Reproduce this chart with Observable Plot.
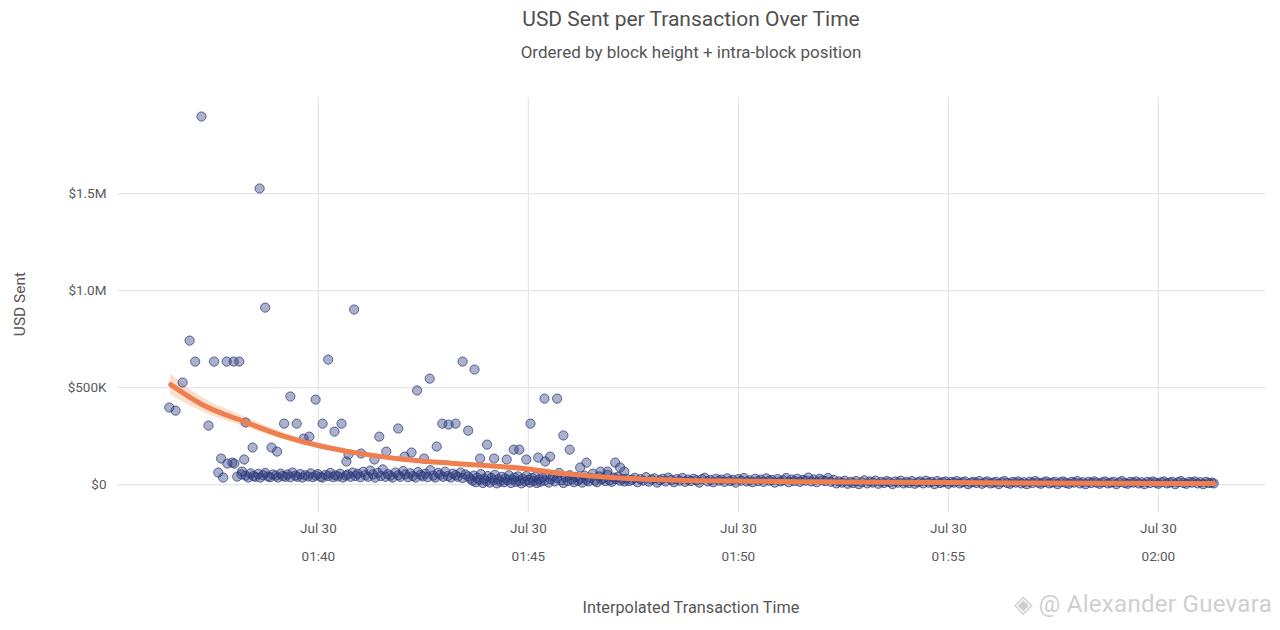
<!DOCTYPE html>
<html><head><meta charset="utf-8">
<script src="https://cdn.jsdelivr.net/npm/d3@7"></script>
<script src="https://cdn.jsdelivr.net/npm/@observablehq/plot@0.6"></script>
<style>
body{margin:0;background:#fff;font-family:Roboto,"Noto Sans",sans-serif;}
#wrap{position:relative;width:1280px;height:630px;overflow:hidden;background:#fff}
#head{position:relative;height:80px;}
#title{position:absolute;left:117px;width:1148px;top:6px;text-align:center;font-size:21px;color:#4f4f4f;line-height:26px}
#subtitle{position:absolute;left:117px;width:1148px;top:41px;text-align:center;font-size:17px;color:#555;line-height:22px}
#xlab{position:absolute;left:117px;width:1148px;top:598px;text-align:center;font-size:16.3px;color:#555;line-height:20px}
#ylab{position:absolute;left:20px;top:304px;transform:translate(-50%,-50%) rotate(-90deg);font-size:15.5px;color:#555;white-space:nowrap;line-height:20px}
#wm{position:absolute;right:8px;top:590px;font-size:24px;color:#cfcfcf;line-height:28px;letter-spacing:0.3px}
svg{display:block}
</style></head>
<body><div id="wrap">
<div id="head"><div id="title"></div><div id="subtitle"></div></div>
<div id="chart"></div>
<div id="xlab"></div><div id="ylab"></div>
<div id="wm"></div>
</div>
<script>
const titleText = "USD Sent per Transaction Over Time";
const subtitleText = "Ordered by block height + intra-block position";
const xLabel = "Interpolated Transaction Time";
const yLabel = "USD Sent";
const watermark = "◈ @ Alexander Guevara";

// time reference: seconds after 2024-07-30 01:36:00 UTC; values in thousands of USD
const baseTime = Date.UTC(2024, 6, 30, 1, 36, 0);
const xDomainSec = [-47, 1593];
const yDomain = [-144000, 1995000];
const yTickValues = [0, 500000, 1000000, 1500000];
const yTickLabels = ["$0", "$500K", "$1.0M", "$1.5M"];
const xTickTimes = ["01:40", "01:45", "01:50", "01:55", "02:00"];
const xTickDate = "Jul 30";

const outlierPoints = [
[27,397],[36,381],[46,526],[56,742],[64,634],[73,1897],[83,304],[91,634],[109,634],[119,634],[127,634],
[136,320],[146,191],[156,1526],[164,912],[173,191],[181,170],[191,314],[200,454],[209,314],[219,237],[227,247],[236,438],[246,314],[254,644],[263,273],[273,314],[280,119],[283,155],[291,902],
[97,62],[101,134],[104,36],[110,108],[117,113],[120,108],[124,41],[131,67],[134,129],
[301,160],[320,129],[327,247],[337,170],[354,289],[363,144],[373,165],[381,485],[391,134],[399,546],[409,196],[417,314],[426,309],[436,314],[446,634],[454,278],[463,593],[471,134],[481,206],[491,134],[509,129],[519,180],[527,180],[537,129],[543,314],[554,139],[563,443],[564,119],[571,144],[581,443],[590,253],[599,180],[614,88],[623,113],[643,67],[653,67],[664,113],[671,88],[677,67]
];

const bandEarly = [
[130,52],[136,46],[140,36],[143,58],[147,44],[150,40],[154,55],[157,36],[161,48],[164,60],[168,42],[171,38],[175,52],[179,46],[182,36],[186,56],[189,44],[193,40],[196,52],[200,38],[203,62],[207,46],[210,40],[214,54],[217,36],[221,48],[225,42],[229,58],[232,38],[236,46],[239,54],[243,40],[246,36],[250,50],[254,44],[257,60],[261,38],[264,48],[268,42],[271,56],[275,36],[279,46],[282,52],[286,40],[289,62]
];

const bandMiddle = [
[293,44],[296,56],[300,38],[304,66],[307,48],[311,40],[314,72],[318,52],[321,36],[325,60],[329,44],[332,78],[336,40],[339,54],[343,46],[346,36],[350,62],[354,48],[357,40],[361,70],[364,52],[368,38],[371,58],[375,44],[379,36],[382,64],[386,50],[389,42],[393,56],[396,38],[400,74],[404,46],[407,36],[411,60],[414,50],[418,40],[421,66],[425,44],[429,36],[432,56],[436,48],[439,40],[443,62],[446,34],[450,52],[454,42],
[457,30],[460,20],[462,46],[465,12],[467,36],[470,24],[472,54],[475,8],[477,30],[480,18],[482,44],[485,10],[487,34],[490,22],[492,50],[495,6],[497,28],[500,16],[502,40],[505,12],[507,32],[510,22],[512,48],[515,8],[517,26],[520,36],[522,14],[525,42],[527,20],[530,6],[532,30],[535,16],[537,44],[540,24],[542,10],[545,34],[547,18],[550,40],[552,8],[555,26],[557,14]
];

const bandLate = [
[560,36],[563,20],[566,52],[569,10],[572,28],[575,44],[578,16],[581,32],[584,60],[587,22],[590,8],[593,38],[596,18],[599,48],[602,26],[605,12],[608,40],[611,20],[614,30],[617,10],[620,46],[623,24],[626,16],[629,34],[632,56],[635,20],[638,12],[641,42],[644,26],[647,32],[650,18],[653,50],[656,22],[659,14],[662,36],[665,28],[668,40],[671,20],[674,30],[677,16]
];

const bandTail = [
[680,30],[684,18],[688,25],[692,35],[696,12],[700,28],[704,20],[708,38],[712,15],[716,26],[720,32],[724,10],[728,22],[732,30],[736,16],[740,36],[744,24],[748,12],[752,28],[756,20],[760,34],[764,14],[768,26],[772,18],[776,30],[780,22],[784,10],[788,28],[792,35],[796,16],[800,24],[804,12],[808,30],[812,20],[816,26],[820,14],[824,32],[828,18],[832,24],[836,10],[840,28],[844,20],[848,34],[852,16],[856,22],[860,12],[864,30],[868,18],[872,26],[876,14],[880,32],[884,20],[888,24],[892,10],[896,28],[900,16],[904,22],[908,34],[912,12],[916,26],[920,18],[924,30],[928,14],[932,24],[936,20],[940,36],[944,16],[948,26],[952,12],[956,30],[960,22],[964,18],[968,34],[972,14],[976,24],
[980,6],[984,16],[988,10],[992,20],[996,4],[1000,14],[1004,8],[1008,18],[1012,2],[1016,12],[1020,22],[1024,6],[1028,16],[1032,10],[1036,20],[1040,4],[1044,14],[1048,8],[1052,18],[1056,12],[1060,2],[1064,16],[1068,10],[1072,20],[1076,6],[1080,14],[1084,8],[1088,18],[1092,4],[1096,12],[1100,16],[1104,6],[1108,20],[1112,10],[1116,14],[1120,2],[1124,18],[1128,8],[1132,12],[1136,16],[1140,4],[1144,14],[1148,10],[1152,18],[1156,6],[1160,12],[1164,16],[1168,2],[1172,10],[1176,14],[1180,8],[1184,18],[1188,4],[1192,12],[1196,16],[1200,6],[1204,10],[1208,14],[1212,2],[1216,12],[1220,18],[1224,8],[1228,4],[1232,14],[1236,10],[1240,16],[1244,6],[1248,12],[1252,2],[1256,14],[1260,8],[1264,18],[1268,10],[1272,4],[1276,12],[1280,16],[1284,6],[1288,10],[1292,14],[1296,2],[1300,12],[1304,16],[1308,8],[1312,4],[1316,14],[1320,10],[1324,18],[1328,6],[1332,12],[1336,2],[1340,14],[1344,8],[1348,16],[1352,10],[1356,4],[1360,12],[1364,16],[1368,6],[1372,10],[1376,14],[1380,2],[1384,12],[1388,18],[1392,8],[1396,4],[1400,14],[1404,10],[1408,16],[1412,6],[1416,12],[1420,2],[1424,14],[1428,8],[1432,16],[1436,10],[1440,4],[1444,12],[1448,16],[1452,6],[1456,10],[1460,14],[1464,2],[1468,12],[1472,18],[1476,8],[1480,4],[1484,14],[1488,10],[1492,16],[1496,6],[1500,12],[1504,2],[1508,14],[1512,8],[1516,10],[1519,6]
];

// smoothed trend: [seconds, value K, half-width K]
const trendLine = [
[29,515,55],[71,418,38],[137,320,26],[190,250,18],[241,200,14],[296,162,11],[357,132,9],[429,110,8],[500,93,7],[540,80,6],[576,62,6],[624,46,5],[671,34,5],[719,26,4],[786,20,4],[860,17,4],[929,15,4],[986,13,4],[1143,10,4],[1357,7,5],[1450,6,8],[1519,6,13]
];

const toDate = s => new Date(baseTime + s * 1000);
const points = [...bandEarly, ...bandMiddle, ...bandLate, ...bandTail, ...outlierPoints]
  .map(([s, v]) => ({time: toDate(s), usd: v * 1000}));
const trend = trendLine.map(([s, v, h]) => ({time: toDate(s), usd: v * 1000, lo: (v - h) * 1000, hi: (v + h) * 1000}));
const xTicks = xTickTimes.map(t => { const [h, m] = t.split(":").map(Number); return new Date(Date.UTC(2024, 6, 30, h, m, 0)); });
const fmtHM = d3.utcFormat("%H:%M");

document.getElementById("title").textContent = titleText;
document.getElementById("subtitle").textContent = subtitleText;
document.getElementById("xlab").textContent = xLabel;
document.getElementById("ylab").textContent = yLabel;
document.getElementById("wm").textContent = watermark;

const chart = Plot.plot({
  width: 1280, height: 550,
  marginTop: 17, marginBottom: 118, marginLeft: 117, marginRight: 15,
  x: {type: "utc", domain: xDomainSec.map(toDate)},
  y: {domain: yDomain},
  style: {fontFamily: "Roboto, sans-serif", fontSize: "13.5px", color: "#5a5a5a", background: "#fff", overflow: "visible"},
  marks: [
    Plot.gridY(yTickValues, {stroke: "#e6e6e6", strokeOpacity: 1, strokeWidth: 1.2}),
    Plot.gridX(xTicks, {stroke: "#e6e6e6", strokeOpacity: 1, strokeWidth: 1.2}),
    Plot.areaY(trend, {x: "time", y1: "lo", y2: "hi", fill: "#f9c7a6", fillOpacity: 0.55, curve: "monotone-x"}),
    Plot.dot(points, {x: "time", y: "usd", r: 4.6, fill: "#2c3b7c", fillOpacity: 0.4, stroke: "#2c3b7c", strokeOpacity: 0.75, strokeWidth: 1}),
    Plot.line(trend, {x: "time", y: "usd", stroke: "#f07f4f", strokeWidth: 5, curve: "monotone-x"}),
    Plot.axisY(yTickValues, {tickFormat: (d, i) => yTickLabels[i], tickSize: 0, tickPadding: 11, label: null, fontSize: "13.5px"}),
    Plot.axisX(xTicks, {tickFormat: () => xTickDate, tickSize: 0, tickPadding: 11, label: null}),
    Plot.axisX(xTicks, {tickFormat: d => fmtHM(d), tickSize: 0, tickPadding: 39, label: null})
  ]
});
document.getElementById("chart").appendChild(chart);
</script>
</body></html>
